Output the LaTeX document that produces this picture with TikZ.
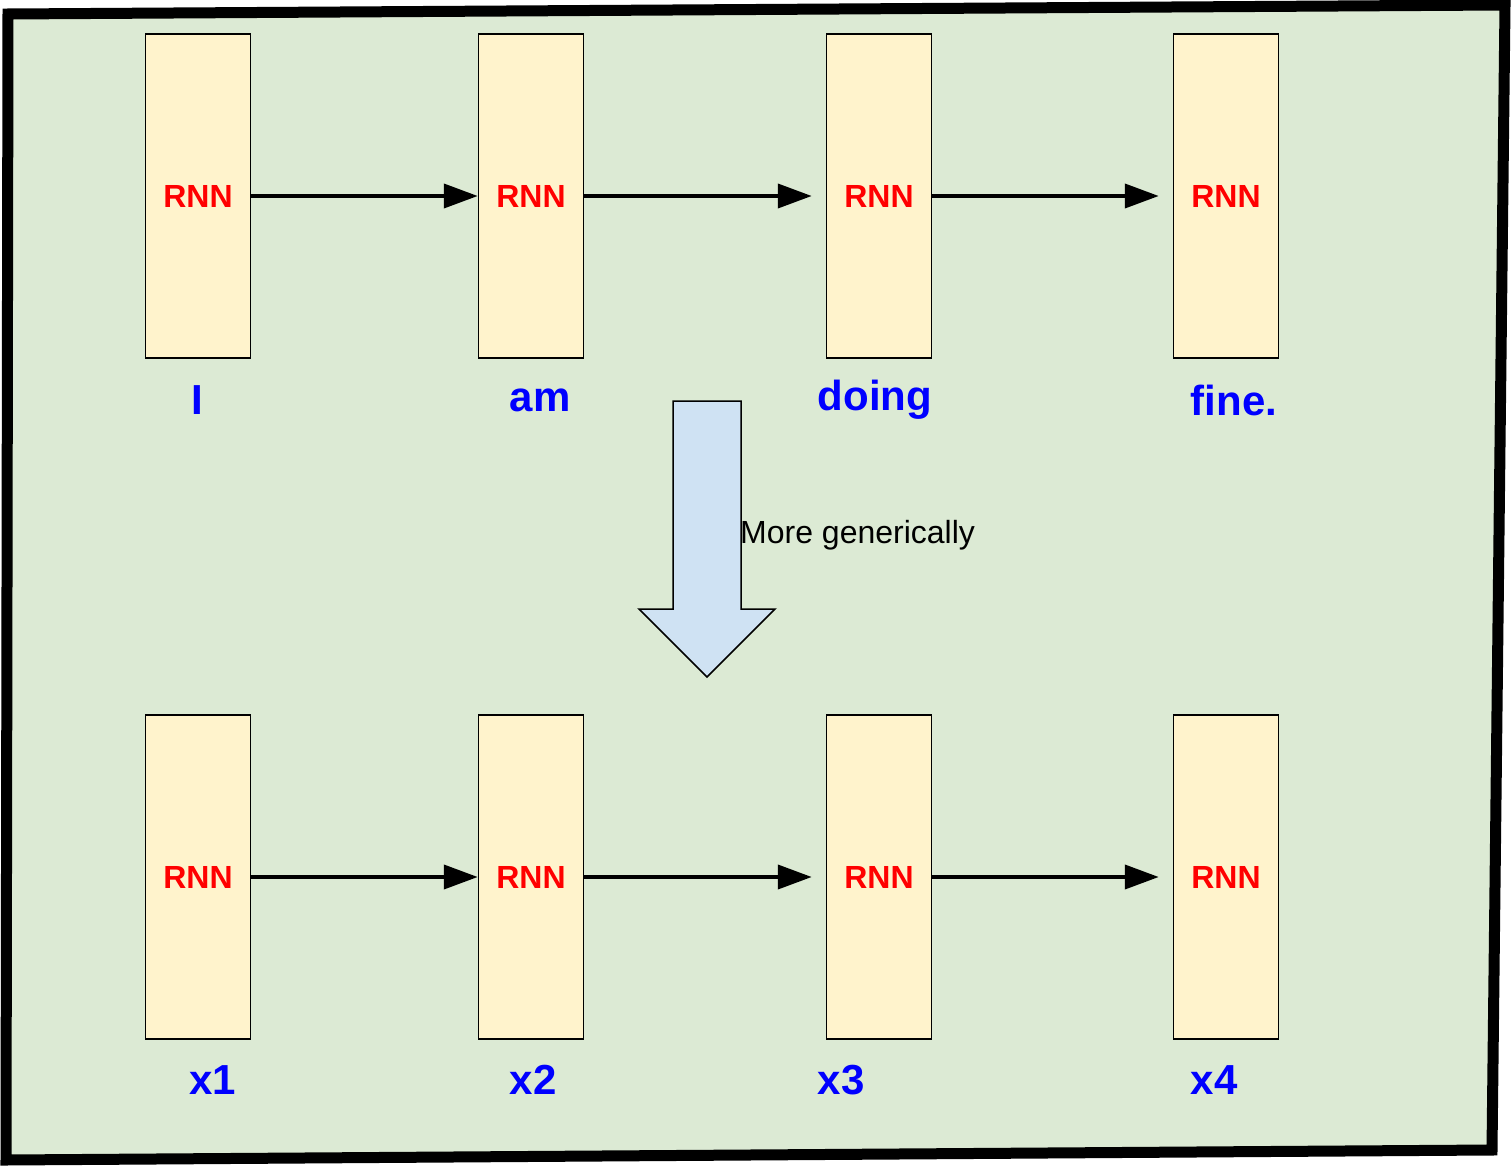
\documentclass[tikz,border=0pt]{standalone}
\usepackage{fontspec}
\setmainfont{Liberation Sans}
\usetikzlibrary{arrows.meta}
\definecolor{bg}{HTML}{DCEAD4}
\definecolor{box}{HTML}{FFF3CC}
\definecolor{blu}{HTML}{CFE2F3}
\begin{document}
\begin{tikzpicture}[x=1pt,y=-1pt,
  rnn/.style={draw,fill=box,line width=1.5pt,minimum width=105pt,minimum height=324pt,inner sep=0,
    font=\bfseries\fontsize{32}{32}\selectfont,text=red},
  word/.style={text=blue,font=\bfseries\fontsize{42}{42}\selectfont,inner sep=0},
  link/.style={line width=4pt,-{Triangle[length=34pt,width=24pt]}}]
\useasboundingbox (0,0) rectangle (1512,1166);
\fill[white] (0,0) rectangle (1512,1166);
\draw[fill=bg,line width=11pt] (8,14) -- (1505,5) -- (1492,1150) -- (6,1160) -- cycle;
\foreach \n/\x in {1/198,2/531,3/879,4/1226}{
  \node[rnn] (a\n) at (\x,196) {RNN};
  \node[rnn] (b\n) at (\x,877) {RNN};
}
\draw[link] (a1.east) -- (a2.west);
\draw[link] (b1.east) -- (b2.west);
\foreach \i/\j in {2/3,3/4}{
  \draw[link,shorten >=14pt] (a\i.east) -- (a\j.west);
  \draw[link,shorten >=14pt] (b\i.east) -- (b\j.west);
}
\node[word] (w1) at (197,400) {I};
\node[word] (w2) at (540,400) {am};
\node[word] (w3) at (875,400) {doing};
\node[word] (w4) at (1234,400) {fine.};
\node[word] (x1) at (213,1080) {x1};
\node[word] (x2) at (533,1080) {x2};
\node[word] (x3) at (841,1080) {x3};
\node[word] (x4) at (1214,1080) {x4};
\draw[fill=blu,line width=1.5pt] (673,401) -- (741,401) -- (741,609) -- (775,609) -- (707,677) -- (639,609) -- (673,609) -- cycle;
\node[anchor=west,inner sep=0,font=\fontsize{32}{32}\selectfont] (lbl) at (740,535) {More generically};
\end{tikzpicture}
\end{document}
